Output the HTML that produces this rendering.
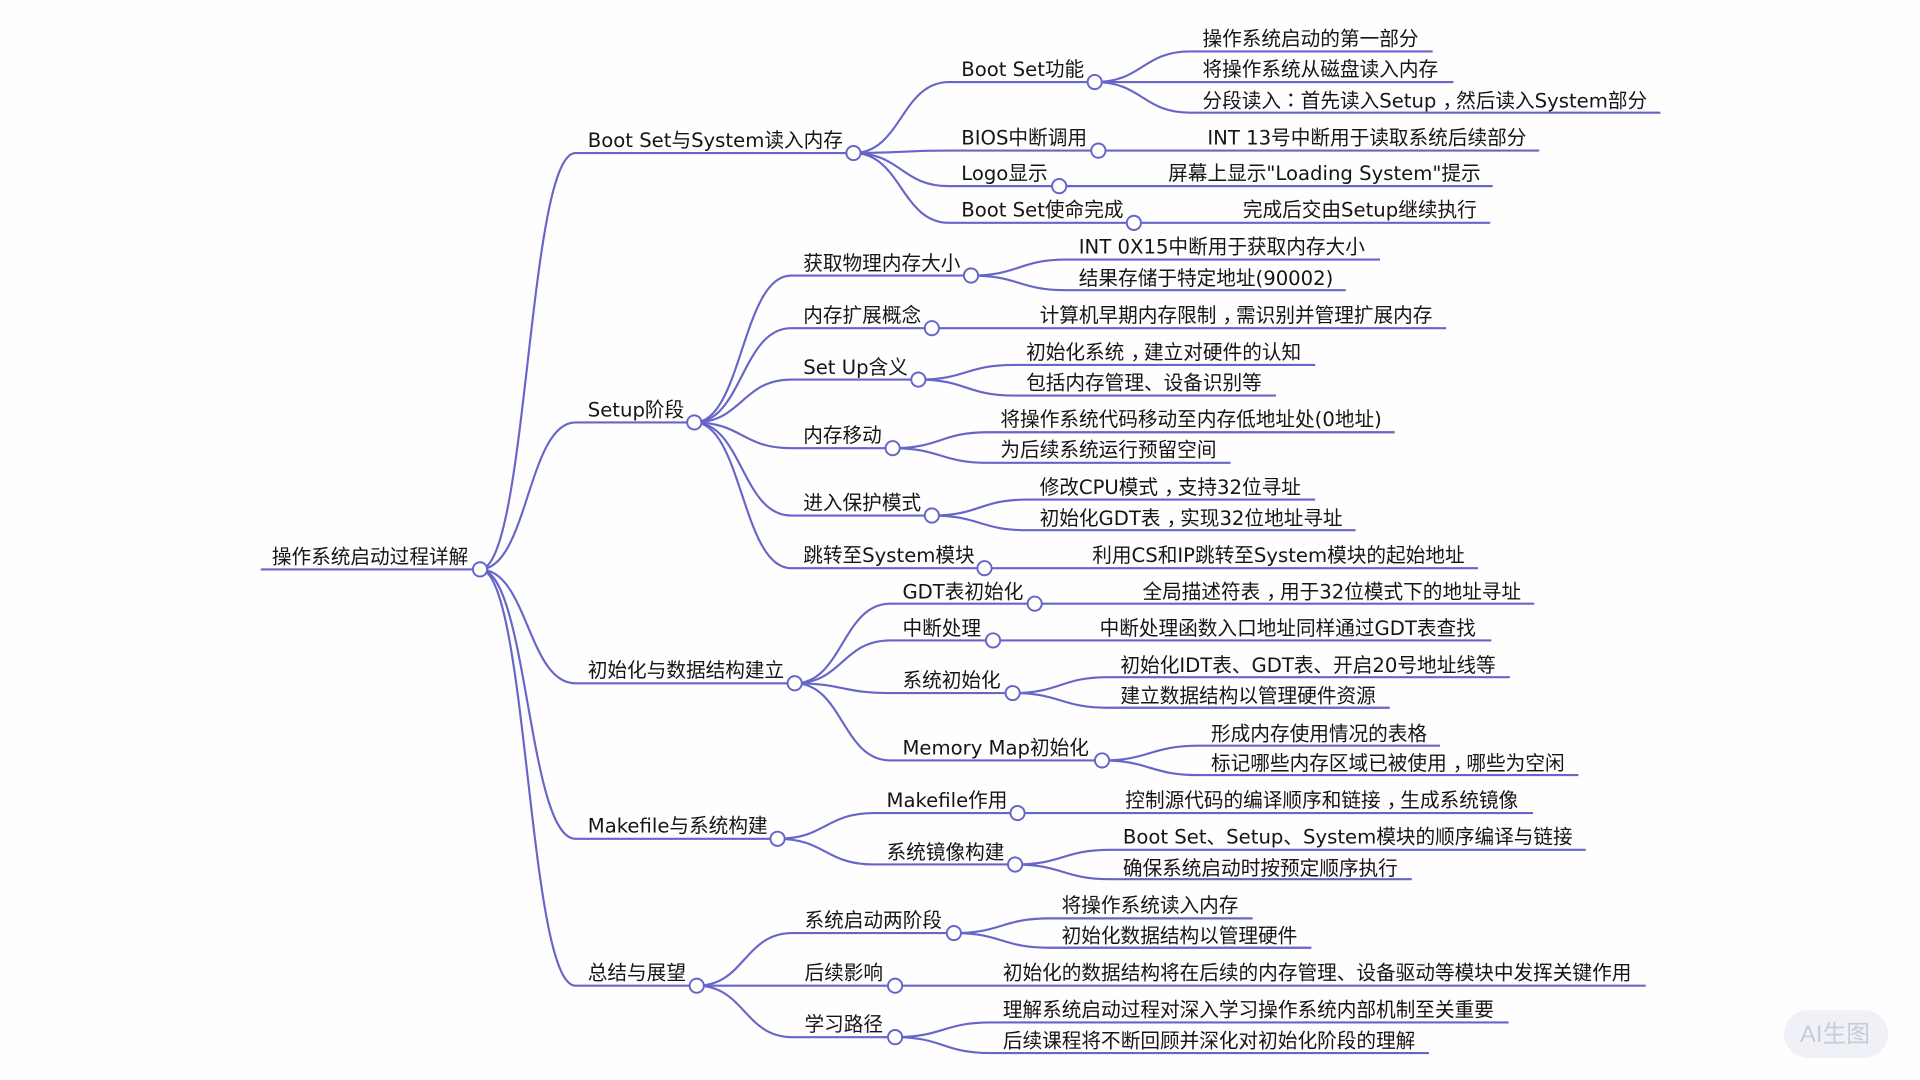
<!DOCTYPE html>
<html><head><meta charset="utf-8"><style>
html,body{margin:0;padding:0;background:#fefefe;width:1920px;height:1080px;overflow:hidden}
svg{display:block}
text{font-family:"DejaVu Sans","WenQuanYi Zen Hei","Noto Sans CJK SC",sans-serif;font-size:16.05px;fill:#151515}
.p{font-family:"Noto Sans CJK TC",sans-serif}
path{fill:none;stroke:#6666c8;stroke-width:1.75}
circle{fill:#fff;stroke:#6666c8;stroke-width:1.6}
</style></head><body>
<svg width="1920" height="1080" viewBox="0 0 1568 882" xmlns="http://www.w3.org/2000/svg">
<path d="M213 465H392"/>
<path d="M392 465C431 465 431 125 470 125H697"/>
<path d="M392 465C431 465 431 345 470 345H567"/>
<path d="M392 465C431 465 431 558 470 558H649"/>
<path d="M392 465C431 465 431 685 470 685H635"/>
<path d="M392 465C431 465 431 805 470 805H569"/>
<path d="M697 125C736 125 736 67 775 67H894"/>
<path d="M697 125C736 125 736 123 775 123H897"/>
<path d="M697 125C736 125 736 152 775 152H865"/>
<path d="M697 125C736 125 736 182 775 182H926"/>
<path d="M894 67C933 67 933 42 972 42H1170"/>
<path d="M894 67H1187"/>
<path d="M894 67C933 67 933 92 972 92H1356"/>
<path d="M897 123H1257"/>
<path d="M865 152H1219"/>
<path d="M926 182H1217"/>
<path d="M567 345C606 345 606 225 646 225H793"/>
<path d="M567 345C606 345 606 268 646 268H761"/>
<path d="M567 345C606 345 606 310 646 310H750"/>
<path d="M567 345C606 345 606 366 646 366H729"/>
<path d="M567 345C606 345 606 421 646 421H761"/>
<path d="M567 345C606 345 606 464 646 464H804"/>
<path d="M793 225C832 225 832 212 871 212H1127"/>
<path d="M793 225C832 225 832 237 871 237H1099"/>
<path d="M761 268H1181"/>
<path d="M750 310C789 310 789 298 828 298H1074"/>
<path d="M750 310C789 310 789 323 828 323H1042"/>
<path d="M729 366C768 366 768 353 807 353H1139"/>
<path d="M729 366C768 366 768 378 807 378H1005"/>
<path d="M761 421C800 421 800 408 839 408H1074"/>
<path d="M761 421C800 421 800 433 839 433H1107"/>
<path d="M804 464H1207"/>
<path d="M649 558C688 558 688 493 727 493H845"/>
<path d="M649 558C688 558 688 523 727 523H811"/>
<path d="M649 558C688 558 688 566 727 566H827"/>
<path d="M649 558C688 558 688 621 727 621H900"/>
<path d="M845 493H1253"/>
<path d="M811 523H1218"/>
<path d="M827 566C866 566 866 553 905 553H1233"/>
<path d="M827 566C866 566 866 578 905 578H1135"/>
<path d="M900 621C939 621 939 609 979 609H1176"/>
<path d="M900 621C939 621 939 633 979 633H1289"/>
<path d="M635 685C674 685 674 664 714 664H831"/>
<path d="M635 685C674 685 674 706 714 706H829"/>
<path d="M831 664H1252"/>
<path d="M829 706C868 706 868 694 907 694H1295"/>
<path d="M829 706C868 706 868 718 907 718H1153"/>
<path d="M569 805C608 805 608 762 647 762H779"/>
<path d="M569 805C608 805 608 805 647 805H731"/>
<path d="M569 805C608 805 608 847 647 847H731"/>
<path d="M779 762C818 762 818 750 857 750H1023"/>
<path d="M779 762C818 762 818 774 857 774H1071"/>
<path d="M731 805H1344"/>
<path d="M731 847C770 847 770 835 809 835H1232"/>
<path d="M731 847C770 847 770 860 809 860H1167"/>

<circle cx="392" cy="465" r="5.8"/><circle cx="697" cy="125" r="5.8"/><circle cx="567" cy="345" r="5.8"/><circle cx="649" cy="558" r="5.8"/><circle cx="635" cy="685" r="5.8"/><circle cx="569" cy="805" r="5.8"/>
<circle cx="894" cy="67" r="5.8"/><circle cx="897" cy="123" r="5.8"/><circle cx="865" cy="152" r="5.8"/><circle cx="926" cy="182" r="5.8"/>
<circle cx="793" cy="225" r="5.8"/><circle cx="761" cy="268" r="5.8"/><circle cx="750" cy="310" r="5.8"/><circle cx="729" cy="366" r="5.8"/><circle cx="761" cy="421" r="5.8"/><circle cx="804" cy="464" r="5.8"/>
<circle cx="845" cy="493" r="5.8"/><circle cx="811" cy="523" r="5.8"/><circle cx="827" cy="566" r="5.8"/><circle cx="900" cy="621" r="5.8"/>
<circle cx="831" cy="664" r="5.8"/><circle cx="829" cy="706" r="5.8"/>
<circle cx="779" cy="762" r="5.8"/><circle cx="731" cy="805" r="5.8"/><circle cx="731" cy="847" r="5.8"/>

<text x="222" y="460">操作系统启动过程详解</text>
<text x="480" y="120">Boot Set与System读入内存</text>
<text x="480" y="340">Setup阶段</text>
<text x="480" y="553">初始化与数据结构建立</text>
<text x="480" y="680">Makefile与系统构建</text>
<text x="480" y="800">总结与展望</text>
<text x="785" y="62">Boot Set功能</text>
<text x="785" y="118">BIOS中断调用</text>
<text x="785" y="147">Logo显示</text>
<text x="785" y="177">Boot Set使命完成</text>
<text x="982" y="37">操作系统启动的第一部分</text>
<text x="982" y="62">将操作系统从磁盘读入内存</text>
<text x="982" y="87.6">分段读入<tspan class="p">：</tspan>首先读入Setup<tspan dx="5">，</tspan><tspan dx="-5">然</tspan>后读入System部分</text>
<text x="986" y="118">INT 13号中断用于读取系统后续部分</text>
<text x="954" y="147">屏幕上显示"Loading System"提示</text>
<text x="1015" y="177">完成后交由Setup继续执行</text>
<text x="656" y="220.6">获取物理内存大小</text>
<text x="656" y="263">内存扩展概念</text>
<text x="656" y="305.6">Set Up含义</text>
<text x="656" y="361">内存移动</text>
<text x="656" y="416">进入保护模式</text>
<text x="656" y="459">跳转至System模块</text>
<text x="881" y="207">INT 0X15中断用于获取内存大小</text>
<text x="881" y="232.6">结果存储于特定地址(90002)</text>
<text x="849" y="263">计算机早期内存限制<tspan dx="5">，</tspan><tspan dx="-5">需</tspan>识别并管理扩展内存</text>
<text x="838" y="293">初始化系统<tspan dx="5">，</tspan><tspan dx="-5">建</tspan>立对硬件的认知</text>
<text x="838" y="318">包括内存管理、设备识别等</text>
<text x="817" y="348">将操作系统代码移动至内存低地址处(0地址)</text>
<text x="817" y="373">为后续系统运行预留空间</text>
<text x="849" y="403.6">修改CPU模式<tspan dx="5">，</tspan><tspan dx="-5">支</tspan>持32位寻址</text>
<text x="849" y="428.6">初始化GDT表<tspan dx="5">，</tspan><tspan dx="-5">实</tspan>现32位地址寻址</text>
<text x="892" y="459">利用CS和IP跳转至System模块的起始地址</text>
<text x="737" y="488.6">GDT表初始化</text>
<text x="737" y="518.6">中断处理</text>
<text x="737" y="561">系统初始化</text>
<text x="737" y="616">Memory Map初始化</text>
<text x="933" y="488.6">全局描述符表<tspan dx="5">，</tspan><tspan dx="-5">用</tspan>于32位模式下的地址寻址</text>
<text x="898" y="518.6">中断处理函数入口地址同样通过GDT表查找</text>
<text x="915" y="548.6">初始化IDT表、GDT表、开启20号地址线等</text>
<text x="915" y="573.6">建立数据结构以管理硬件资源</text>
<text x="989" y="604.6">形成内存使用情况的表格</text>
<text x="989" y="629">标记哪些内存区域已被使用<tspan dx="5">，</tspan><tspan dx="-5">哪</tspan>些为空闲</text>
<text x="724" y="659">Makefile作用</text>
<text x="724" y="701.6">系统镜像构建</text>
<text x="919" y="659">控制源代码的编译顺序和链接<tspan dx="5">，</tspan><tspan dx="-5">生</tspan>成系统镜像</text>
<text x="917" y="689">Boot Set、Setup、System模块的顺序编译与链接</text>
<text x="917" y="714.6">确保系统启动时按预定顺序执行</text>
<text x="657" y="757">系统启动两阶段</text>
<text x="657" y="800">后续影响</text>
<text x="657" y="842">学习路径</text>
<text x="867" y="745">将操作系统读入内存</text>
<text x="867" y="769.6">初始化数据结构以管理硬件</text>
<text x="819" y="800">初始化的数据结构将在后续的内存管理、设备驱动等模块中发挥关键作用</text>
<text x="819" y="830">理解系统启动过程对深入学习操作系统内部机制至关重要</text>
<text x="819" y="855.5">后续课程将不断回顾并深化对初始化阶段的理解</text>

<rect x="1457" y="825" width="85" height="39" rx="19.5" fill="#f0f1f6"/>
<text x="1470" y="851" style="font-family:'Liberation Sans','Noto Sans CJK SC',sans-serif;font-size:19.4px;fill:#c8cbd8">AI生图</text>
</svg>
</body></html>
